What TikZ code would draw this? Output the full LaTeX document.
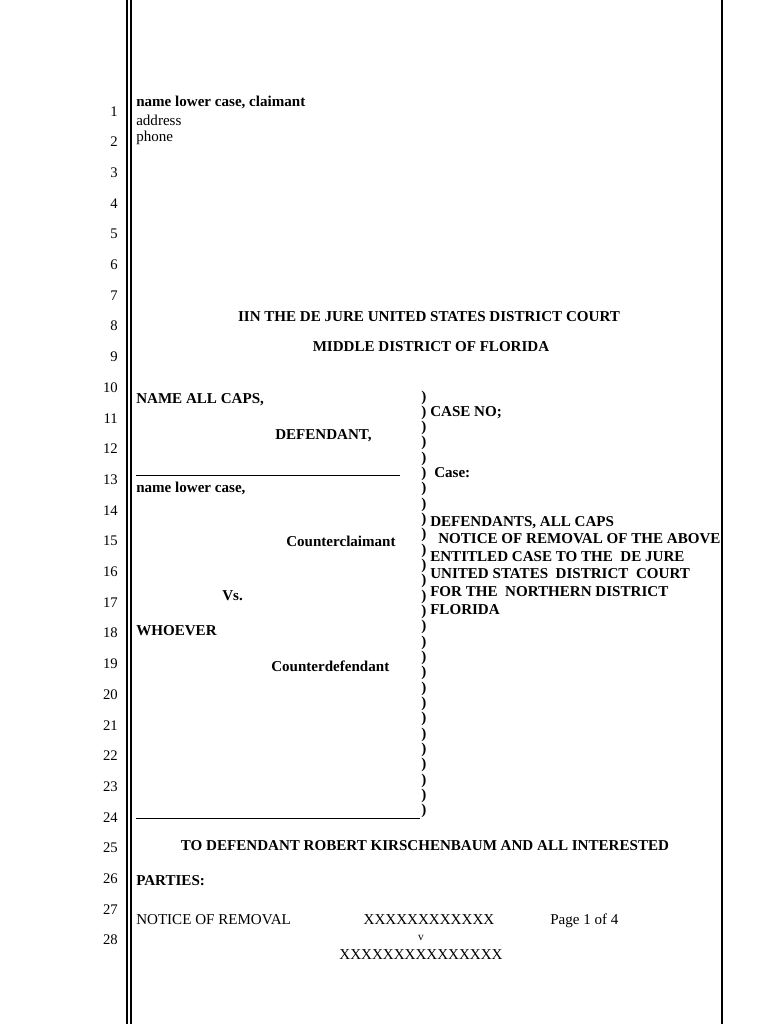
\documentclass[tikz,border=0pt]{standalone}
\usepackage{fontspec}
\setmainfont{Liberation Serif}
\begin{document}
\begin{tikzpicture}[x=0.75pt,y=-0.75pt,
  t/.style={inner sep=0pt,anchor=base west,font=\fontsize{11.3}{13}\selectfont},
  b/.style={t,font=\fontsize{11.3}{13}\selectfont\bfseries},
  bc/.style={b,anchor=base},
  ln/.style={inner sep=0pt,anchor=base east,font=\fontsize{11}{13}\selectfont}]
\useasboundingbox[fill=white] (0,0) rectangle (768,1024);
\draw[line width=0.8pt] (127,0) -- (127,1024) (131,0) -- (131,1024) (722,0) -- (722,1024);
\foreach \i in {1,...,28}{\node[ln] (n\i) at (118,{116+(\i-1)*30.7}) {\i};}
\node[b] (a1) at (136,107) {name lower case, claimant};
\node[t] (a2) at (136,125) {address};
\node[t] (a3) at (136,142) {phone};
\node[bc] (c1) at (429,321) {IIN THE DE JURE UNITED STATES DISTRICT COURT};
\node[bc] (c2) at (431,351) {MIDDLE DISTRICT OF FLORIDA};
\node[b] (p1) at (136,403) {NAME ALL CAPS,};
\node[b] (p2) at (275,439) {DEFENDANT,};
\draw (136,475) -- (400,475);
\node[b] (p3) at (136,492) {name lower case,};
\node[b] (p4) at (286,546) {Counterclaimant};
\node[b] (p5) at (222,600) {Vs.};
\node[b] (p6) at (136,635) {WHOEVER};
\node[b] (p7) at (271,671) {Counterdefendant};
\draw (136,818) -- (420,818);
\foreach \i in {0,...,27}{\node[b] (r\i) at (421,{401+\i*15.33}) {)};}
\node[b] (q1) at (430,416) {CASE NO;};
\node[b] (q2) at (434,477) {Case:};
\node[b] (q3) at (430,526) {DEFENDANTS, ALL CAPS};
\node[b] (q4) at (438,543) {NOTICE OF REMOVAL OF THE ABOVE};
\node[b] (q5) at (430,561) {ENTITLED CASE TO THE\ \ DE JURE};
\node[b] (q6) at (430,578) {UNITED STATES\ \ DISTRICT\ \ COURT};
\node[b] (q7) at (430,596) {FOR THE\ \ NORTHERN DISTRICT};
\node[b] (q8) at (430,614) {FLORIDA};
\node[bc] (d1) at (425,850) {TO DEFENDANT ROBERT KIRSCHENBAUM AND ALL INTERESTED};
\node[b] (d2) at (136,885) {PARTIES:};
\node[t] (f1) at (136,924) {NOTICE OF REMOVAL};
\node[t,anchor=base] (f2) at (429,924) {XXXXXXXXXXXX};
\node[t] (f3) at (550,924) {Page 1 of 4};
\node[t,anchor=base,font=\fontsize{8.5}{9}\selectfont] (f4) at (421,940) {v};
\node[t,anchor=base] (f5) at (421,959) {XXXXXXXXXXXXXXX};
\end{tikzpicture}
\end{document}
